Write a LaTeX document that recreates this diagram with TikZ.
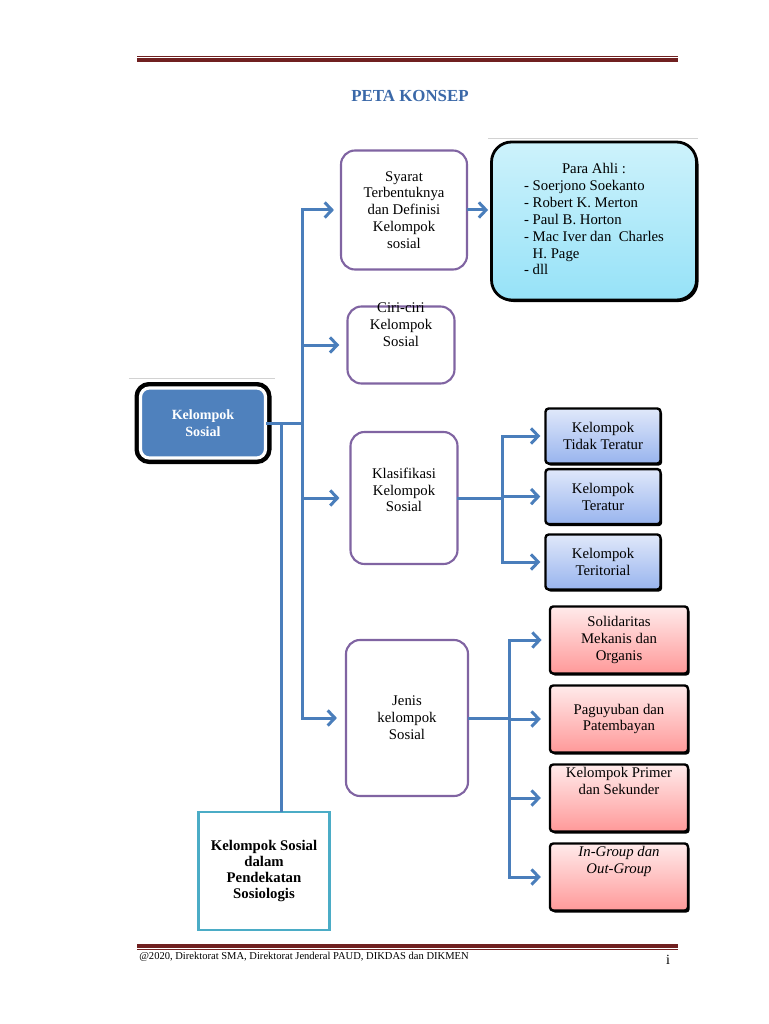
\documentclass[tikz,border=0pt]{standalone}
\usepackage{fontspec}
\setmainfont{Liberation Serif}
\usetikzlibrary{positioning, arrows.meta, shadows}

\definecolor{linkblue}{RGB}{74,126,187}
\definecolor{boxpurple}{RGB}{128,100,162}
\definecolor{ksblue}{RGB}{79,129,189}
\definecolor{titleblue}{RGB}{58,104,168}
\definecolor{rulered}{RGB}{112,32,32}
\definecolor{pendteal}{RGB}{75,172,198}
\definecolor{ahlitop}{RGB}{205,242,251}
\definecolor{ahlibot}{RGB}{150,226,248}
\definecolor{bluetop}{RGB}{224,232,250}
\definecolor{bluebot}{RGB}{152,180,238}

\begin{document}
\begin{tikzpicture}[
  x=0.25mm, y=-0.25mm,
  font=\fontsize{10.5}{12}\selectfont,
  concept/.style={draw=boxpurple, line width=1.5pt, rounded corners=3.5mm,
                  fill=white, align=center},
  txt/.style={align=center, inner sep=0pt},
  ahli/.style={draw=black, line width=0.7mm, rounded corners=5mm,
               top color=ahlitop, bottom color=ahlibot,
               drop shadow={shadow xshift=0.5mm, shadow yshift=-0.5mm,
                            fill=black, opacity=1},
               minimum width=51.25mm, minimum height=39.5mm},
  ksbox/.style={fill=ksblue, draw=white, line width=0.8mm, rounded corners=2.2mm,
                preaction={draw=black, line width=3mm},
                minimum width=31.25mm, minimum height=17.5mm, align=center,
                text=white, font=\fontsize{10}{12}\selectfont\bfseries},
  bluebox/.style={draw=black, line width=0.6mm, rounded corners=0.8mm,
                  top color=bluetop, bottom color=bluebot,
                  drop shadow={shadow xshift=0.4mm, shadow yshift=-0.5mm,
                               fill=black, opacity=1},
                  minimum width=28.75mm, minimum height=13.75mm, align=center},
  redbox/.style={draw=black, line width=0.6mm, rounded corners=0.8mm,
                 top color=red!8, bottom color=red!40,
                 drop shadow={shadow xshift=0.4mm, shadow yshift=-0.5mm,
                              fill=black, opacity=1},
                 minimum width=34.5mm, minimum height=16.75mm, align=center},
  pendbox/.style={draw=pendteal, line width=0.6mm, fill=white,
                  minimum width=32.75mm, minimum height=29.5mm, align=center,
                  font=\fontsize{10.5}{11.2}\selectfont\bfseries},
  link/.style={draw=linkblue, line width=0.75mm, line cap=rect},
  arr/.style={link, -{Straight Barb[length=1.8mm, width=3.8mm]}, shorten >=1mm},
  faint/.style={draw=gray!35, line width=0.3pt},
  rulethick/.style={draw=rulered, line width=1mm},
  rulethin/.style={draw=rulered, line width=0.4pt},
]
\useasboundingbox (0,0) rectangle (768,1024);

% page rules and title
\draw[rulethin] (137,56.5) -- (678,56.5);
\draw[rulethick] (137,60) -- (678,60);
\draw[rulethick] (137,946) -- (678,946);
\draw[rulethin] (137,949.5) -- (678,949.5);
\node[font=\fontsize{12}{14}\selectfont\bfseries, text=titleblue] (title) at (410,96) {PETA KONSEP};

% concept boxes
\node[ksbox] (ks) at (203,423) {Kelompok\\Sosial};
\node[concept, minimum width=31.5mm, minimum height=29.75mm] (syarat) at (404,210)
    {Syarat\\Terbentuknya\\dan Definisi\\Kelompok\\sosial};
\node[ahli] (ahli) at (594,221)
    {\begin{tabular}{@{}l@{}}
     \multicolumn{1}{@{}c@{}}{Para Ahli :}\\
     - Soerjono Soekanto\\
     - Robert K. Merton\\
     - Paul B. Horton\\
     - Mac Iver dan\ \ Charles\\
     \phantom{- }H. Page\\
     - dll
     \end{tabular}};
\node[concept, minimum width=26.75mm, minimum height=19.25mm] (ciri) at (401,345) {};
\node[txt, below=-0.7mm of ciri.north] (ciritxt) {Ciri-ciri\\Kelompok\\Sosial};
\node[concept, minimum width=26.75mm, minimum height=33mm] (klas) at (404,498) {};
\node[txt] (klastxt) at (404,490) {Klasifikasi\\Kelompok\\Sosial};
\node[concept, minimum width=30.5mm, minimum height=39mm] (jenis) at (407,718)
    {Jenis\\kelompok\\Sosial};
\node[pendbox] (pend) at (264,871) {Kelompok Sosial\\dalam\\Pendekatan\\Sosiologis};

% klasifikasi
\node[bluebox] (tidak) at (603,436) {Kelompok\\Tidak Teratur};
\node[bluebox, below=0.8mm of tidak] (teratur) {Kelompok\\Teratur};
\node[bluebox, below=2mm of teratur] (teritorial) {Kelompok\\Teritorial};

% jenis
\node[redbox] (solid) at (619,640) {Solidaritas\\Mekanis dan\\Organis};
\node[redbox, below=2.4mm of solid] (pagu) {Paguyuban dan\\Patembayan};
\node[redbox, below=2.4mm of pagu] (primer) {};
\node[txt, below=0.9mm of primer.north] (primertxt) {Kelompok Primer\\dan Sekunder};
\node[redbox, below=2.4mm of primer] (ingroup) {};
\node[txt, below=0.9mm of ingroup.north, font=\fontsize{10.5}{12}\selectfont\itshape]
    (ingrouptxt) {In-Group dan\\Out-Group};

% faint guide lines
\draw[faint] ([shift={(-0.5mm,0.5mm)}]ahli.north west) -- ([yshift=0.5mm]ahli.north east);
\draw[faint] ([shift={(-2.5mm,2mm)}]ks.north west) -- ([shift={(2mm,2mm)}]ks.north east);

% junctions
\coordinate (tA) at (302,0);
\coordinate (tB) at (281,0);
\coordinate (kB) at (502,0);
\coordinate (jB) at (509,0);

% connectors
\draw[link] (ks.east) -- (ks.east -| tA);
\draw[link] (tA |- syarat.west) -- (tA |- jenis.west);
\draw[link] (ks.east -| tB) -- (pend.north -| tB);
\draw[arr, shorten >=1.5mm] (tA |- syarat.west) -- (syarat.west);
\draw[arr, shorten >=1.8mm] (tA |- ciri.west) -- (ciri.west);
\draw[arr, shorten >=2.5mm] (tA |- klas.west) -- (klas.west);
\draw[arr, shorten >=2mm] (tA |- jenis.west) -- (jenis.west);
\draw[arr, shorten >=0.5mm] (syarat.east) -- (syarat.east -| ahli.west);

\draw[link] (klas.east) -- (klas.east -| kB);
\draw[link] (kB |- tidak.west) -- (kB |- teritorial.west);
\draw[arr] (kB |- tidak.west) -- (tidak.west);
\draw[arr] (kB |- teratur.west) -- (teratur.west);
\draw[arr] (kB |- teritorial.west) -- (teritorial.west);

\draw[link] (jenis.east) -- (jenis.east -| jB);
\draw[link] (jB |- solid.west) -- (jB |- ingroup.west);
\draw[arr, shorten >=1.8mm] (jB |- solid.west) -- (solid.west);
\draw[arr, shorten >=2mm] (jB |- pagu.west) -- (pagu.west);
\draw[arr, shorten >=2mm] (jB |- primer.west) -- (primer.west);
\draw[arr, shorten >=2mm] (jB |- ingroup.west) -- (ingroup.west);

% footer
\node[anchor=west, inner sep=0pt, font=\fontsize{7.5}{9}\selectfont] (foot) at (139,957)
    {@2020, Direktorat SMA, Direktorat Jenderal PAUD, DIKDAS dan DIKMEN};
\node[font=\fontsize{10}{12}\selectfont] (pagenum) at (668,960) {i};

\end{tikzpicture}
\end{document}
